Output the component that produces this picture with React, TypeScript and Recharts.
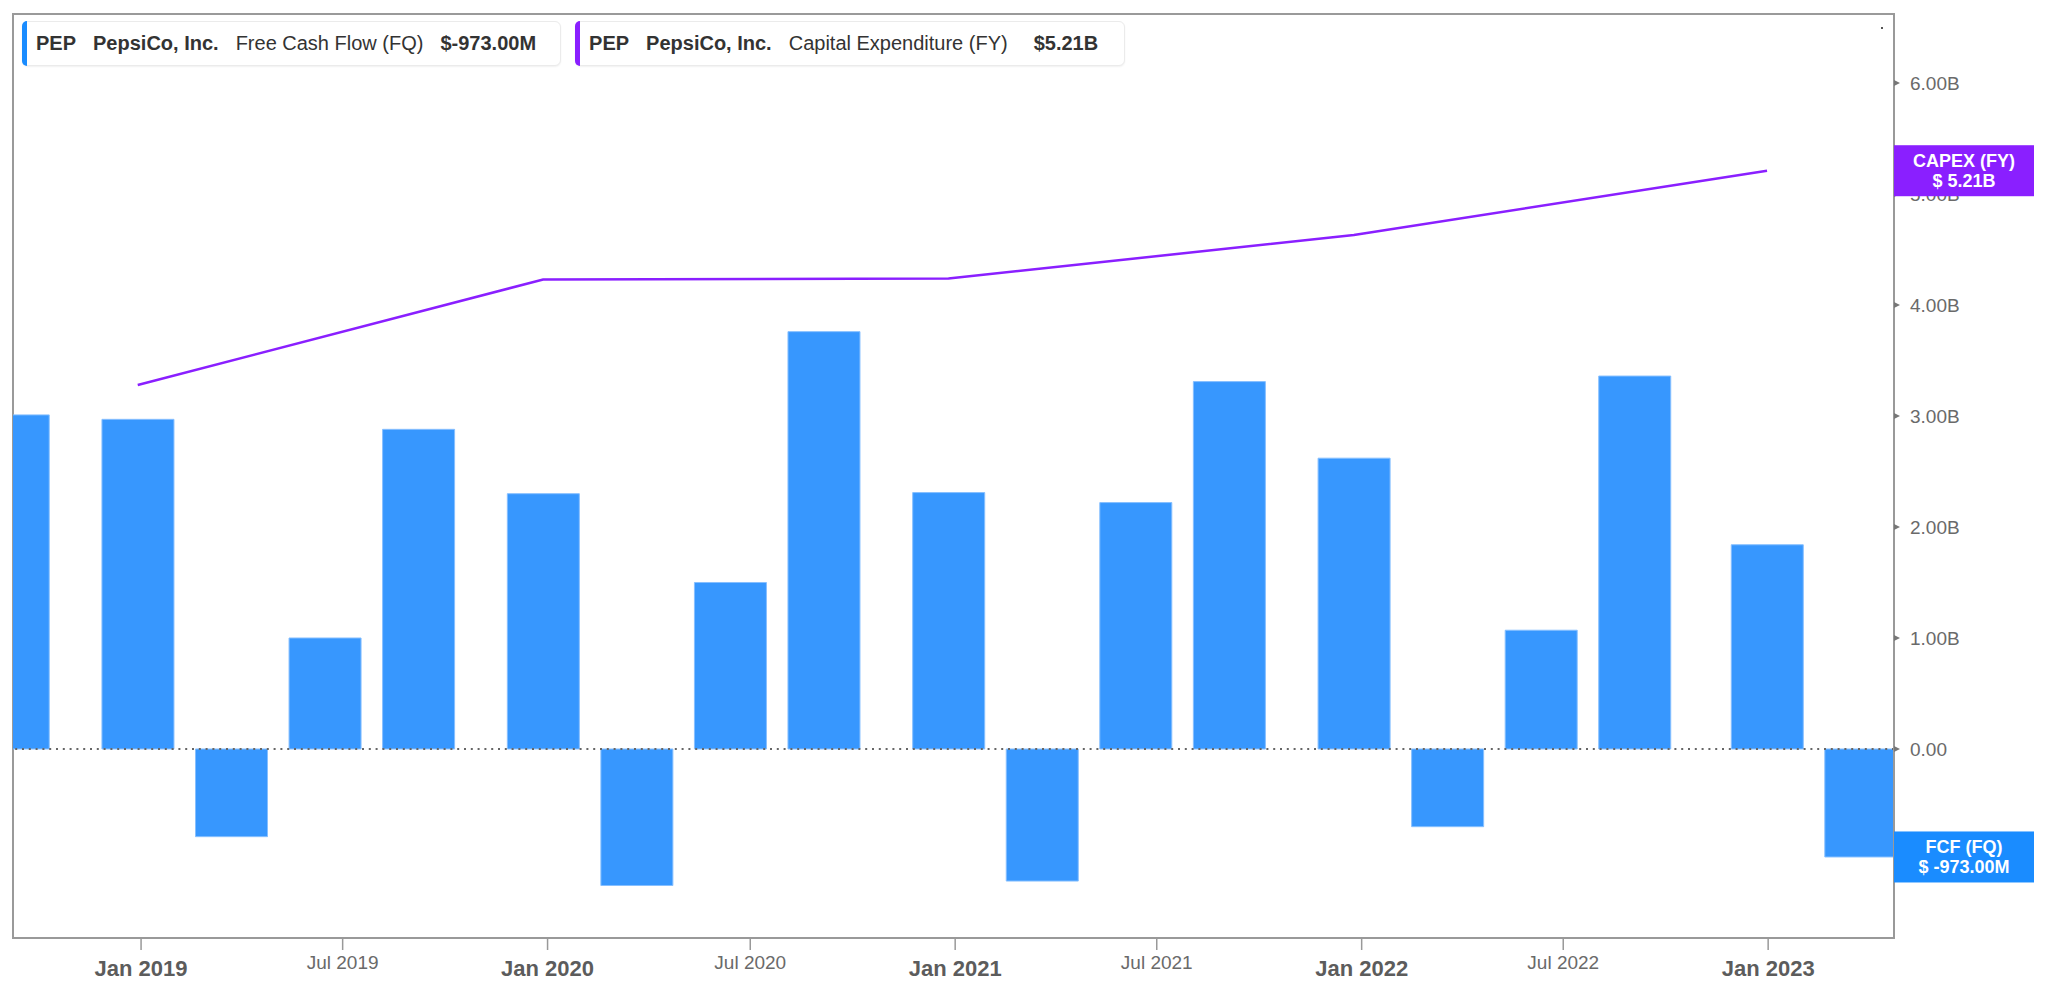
import React from "react";
import {
  ComposedChart,
  Bar,
  Line,
  XAxis,
  YAxis,
  ReferenceLine,
  ReferenceArea,
  ReferenceDot,
} from "recharts";

// PepsiCo fiscal quarter ends and free cash flow (billions USD)
const quarterEnds = [
  "2018-09-08", "2018-12-29",
  "2019-03-23", "2019-06-15", "2019-09-07", "2019-12-28",
  "2020-03-21", "2020-06-13", "2020-09-05", "2020-12-26",
  "2021-03-20", "2021-06-12", "2021-09-04", "2021-12-25",
  "2022-03-19", "2022-06-11", "2022-09-03", "2022-12-31",
  "2023-03-25",
];
const fcfBillions = [
  3.01, 2.97,
  -0.79, 1.0, 2.88, 2.3,
  -1.23, 1.5, 3.76, 2.31,
  -1.19, 2.22, 3.31, 2.62,
  -0.7, 1.07, 3.36, 1.84,
  -0.973,
];

// fiscal year ends and capital expenditure (billions USD)
const fiscalYearEnds = ["2018-12-29", "2019-12-28", "2020-12-26", "2021-12-25", "2022-12-31"];
const capexBillions = [3.28, 4.23, 4.24, 4.63, 5.21];

const xTickDates = [
  "2019-01-01", "2019-07-01", "2020-01-01", "2020-07-01", "2021-01-01",
  "2021-07-01", "2022-01-01", "2022-07-01", "2023-01-01",
];
const yTickValues = [-1, 0, 1, 2, 3, 4, 5, 6];
const monthNames = ["Jan", "Feb", "Mar", "Apr", "May", "Jun", "Jul", "Aug", "Sep", "Oct", "Nov", "Dec"];

const FONT = '"Liberation Sans", Arial, Helvetica, sans-serif';
const BAR_BLUE = "#3797fe";
const TAG_BLUE = "#1a8cff";
const PURPLE = "#8a1fff";

const toTime = (s: string) => Date.parse(s + "T00:00:00Z");

const X_DOMAIN = [toTime(quarterEnds[0]), toTime("2023-04-24")];
const Y_DOMAIN = [-1.703, 6.622];

const data = quarterEnds.map((d, i) => {
  const yi = fiscalYearEnds.indexOf(d);
  return {
    date: toTime(d),
    fcf: fcfBillions[i],
    capex: yi >= 0 ? capexBillions[yi] : null,
  };
});

const lastFcf = fcfBillions[fcfBillions.length - 1];
const lastCapex = capexBillions[capexBillions.length - 1];

function DateTick({ x, y, payload }: any) {
  const d = new Date(payload.value);
  const isJan = d.getUTCMonth() === 0;
  return (
    <text
      x={x}
      y={y + (isJan ? 26 : 19)}
      textAnchor="middle"
      fontFamily={FONT}
      fontSize={isJan ? 22 : 19}
      fontWeight={isJan ? 700 : 400}
      fill={isJan ? "#5c5c5c" : "#6a6a6a"}
    >
      {`${monthNames[d.getUTCMonth()]} ${d.getUTCFullYear()}`}
    </text>
  );
}

function ValueTick({ x, y, payload }: any) {
  const v = payload.value as number;
  const label = v === 0 ? "0.00" : `${v.toFixed(2)}B`;
  return (
    <g>
      <path d={`M${x - 16},${y - 3}L${x - 10},${y}L${x - 16},${y + 3}Z`} fill="#777" />
      <text x={x} y={y} dy="0.35em" textAnchor="start" fontFamily={FONT} fontSize={19} fill="#6a6a6a">
        {label}
      </text>
    </g>
  );
}

function ValueTag({ cx, cy, color, title, value }: any) {
  return (
    <g>
      <rect x={cx} y={cy - 25.5} width={140} height={51} fill={color} />
      <text x={cx + 70} y={cy - 10} dy="0.35em" textAnchor="middle" fontFamily={FONT} fontSize={18} fontWeight={700} fill="#fff">
        {title}
      </text>
      <text x={cx + 70} y={cy + 10} dy="0.35em" textAnchor="middle" fontFamily={FONT} fontSize={18} fontWeight={700} fill="#fff">
        {value}
      </text>
    </g>
  );
}

function LegendBox({ color, name, value, valueGap = 17, padRight = 22 }: any) {
  return (
    <div
      style={{
        position: "relative",
        display: "flex",
        alignItems: "center",
        gap: 17,
        height: 45,
        boxSizing: "border-box",
        padding: `0 ${padRight}px 0 13px`,
        background: "#fff",
        border: "1px solid #ebebeb",
        borderRadius: 6,
        boxShadow: "0 1px 2px rgba(0,0,0,0.06)",
        fontFamily: FONT,
        fontSize: 20,
        color: "#333",
        whiteSpace: "nowrap",
      }}
    >
      <div
        style={{
          position: "absolute",
          left: -1,
          top: -1,
          bottom: -1,
          width: 5,
          background: color,
          borderRadius: "6px 0 0 6px",
        }}
      />
      <span style={{ fontWeight: 700 }}>PEP</span>
      <span style={{ fontWeight: 700 }}>PepsiCo, Inc.</span>
      <span>{name}</span>
      <span style={{ fontWeight: 700, marginLeft: valueGap - 17 }}>{value}</span>
    </div>
  );
}

export default function App() {
  return (
    <div style={{ position: "absolute", left: 0, top: 0, width: 2048, height: 992, background: "#fff" }}>
      <ComposedChart width={2048} height={992} data={data} margin={{ top: 14, right: 0, bottom: 0, left: 13 }}>
        <XAxis
          dataKey="date"
          type="number"
          scale="linear"
          domain={X_DOMAIN}
          allowDataOverflow
          ticks={xTickDates.map(toTime)}
          tick={<DateTick />}
          tickSize={12}
          tickMargin={0}
          tickLine={{ stroke: "#999", strokeWidth: 1.5 }}
          axisLine={{ stroke: "#999", strokeWidth: 2 }}
          height={54}
        />
        <YAxis
          yAxisId="r"
          orientation="right"
          type="number"
          domain={Y_DOMAIN}
          allowDataOverflow
          ticks={yTickValues}
          tick={<ValueTick />}
          tickSize={6}
          tickMargin={10}
          tickLine={false}
          axisLine={{ stroke: "#999", strokeWidth: 2 }}
          width={154}
        />
        <Bar
          yAxisId="r"
          dataKey="fcf"
          barSize={72}
          fill={BAR_BLUE}
          stroke="#86bfff"
          strokeWidth={1}
          isAnimationActive={false}
        />
        <ReferenceLine yAxisId="r" y={0} stroke="#666" strokeWidth={2} strokeDasharray="2 4.8" />
        <Line
          yAxisId="r"
          dataKey="capex"
          type="linear"
          stroke={PURPLE}
          strokeWidth={2.5}
          dot={false}
          activeDot={false}
          connectNulls
          isAnimationActive={false}
        />
        <ReferenceArea
          yAxisId="r"
          x1={X_DOMAIN[0]}
          x2={X_DOMAIN[1]}
          y1={Y_DOMAIN[0]}
          y2={Y_DOMAIN[1]}
          ifOverflow="visible"
          fill="none"
          fillOpacity={0}
          stroke="#9a9a9a"
          strokeWidth={2}
        />
        <ReferenceDot
          yAxisId="r"
          x={X_DOMAIN[1]}
          y={lastCapex}
          ifOverflow="visible"
          zIndex={2500}
          shape={(p: any) => (
            <ValueTag cx={p.cx} cy={p.cy} color={PURPLE} title="CAPEX (FY)" value={`$ ${lastCapex.toFixed(2)}B`} />
          )}
        />
        <ReferenceDot
          yAxisId="r"
          x={X_DOMAIN[1]}
          y={lastFcf}
          ifOverflow="visible"
          zIndex={2500}
          shape={(p: any) => (
            <ValueTag cx={p.cx} cy={p.cy} color={TAG_BLUE} title="FCF (FQ)" value={`$ ${(lastFcf * 1000).toFixed(2)}M`} />
          )}
        />
      </ComposedChart>
      <div style={{ position: "absolute", left: 22, top: 21, display: "flex", gap: 14 }}>
        <LegendBox color={TAG_BLUE} name="Free Cash Flow (FQ)" value={`$${(lastFcf * 1000).toFixed(2)}M`} padRight={24} />
        <LegendBox
          color={PURPLE}
          name="Capital Expenditure (FY)"
          value={`$${lastCapex.toFixed(2)}B`}
          valueGap={26}
          padRight={26}
        />
      </div>
      <div style={{ position: "absolute", left: 1881, top: 27, width: 2, height: 2, background: "#555" }} />
    </div>
  );
}
